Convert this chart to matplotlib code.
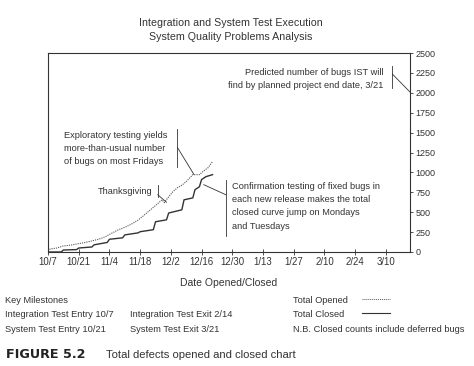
import numpy as np
import matplotlib
matplotlib.use("Agg")
import matplotlib.pyplot as plt

plt.rcParams['font.family'] = ['Liberation Sans', 'DejaVu Sans']

# days after 10/7 and cumulative counts
opened_days = [0, 1, 4, 7, 10, 13, 17, 20, 23, 26, 29, 32, 35, 38, 41, 45, 48,
               52, 53, 55, 57, 59, 61, 63, 66, 69, 71, 73, 75]
opened_vals = [10, 38, 50, 76, 85, 100, 120, 139, 160, 190, 235, 278, 310, 350,
               400, 490, 560, 656, 620, 694, 760, 808, 840, 884, 972, 972, 1020,
               1060, 1136]

closed_days = [0, 6, 7, 13, 14, 20, 21, 27, 28, 34, 35, 41, 42, 48, 49, 54, 55,
               61, 62, 66, 67, 69, 70, 72, 75]
closed_vals = [0, 0, 25, 30, 50, 63, 90, 120, 160, 178, 215, 240, 255, 280, 380,
               404, 490, 530, 656, 680, 783, 820, 910, 947, 972]

tick_days = list(range(0, 155, 14))
tick_labels = ['10/7', '10/21', '11/4', '11/18', '12/2', '12/16', '12/30',
               '1/13', '1/27', '2/10', '2/24', '3/10']
y_ticks = list(range(0, 2501, 250))

ink = '#333333'

fig = plt.figure(figsize=(4.74, 3.66), dpi=100)
ax = fig.add_axes([0.1013, 0.3115, 0.7637, 0.5435])

ax.plot(opened_days, opened_vals, color='#555555', lw=0.8, ls=(0, (1, 1)))
ax.plot(closed_days, closed_vals, color=ink, lw=1.0)

ax.set_xlim(0, 165)
ax.set_ylim(0, 2500)
ax.set_xticks(tick_days)
ax.set_xticklabels(tick_labels)
ax.set_yticks(y_ticks)
ax.yaxis.tick_right()
ax.tick_params(axis='both', colors=ink, length=2.5, width=0.6, pad=1.5)
ax.tick_params(axis='x', direction='inout', length=4, labelsize=6.9)
ax.tick_params(axis='y', labelsize=6.5)
for s in ax.spines.values():
    s.set_color(ink)
    s.set_linewidth(0.8)
ax.set_xlabel('Date Opened/Closed', fontsize=7.5, color=ink, labelpad=8)

fig.text(0.487, 0.937, 'Integration and System Test Execution', ha='center',
         va='center', fontsize=7.7, color=ink)
fig.text(0.487, 0.899, 'System Quality Problems Analysis', ha='center',
         va='center', fontsize=7.7, color=ink)

# annotations
afs = 6.7
lk = dict(color=ink, lw=0.6, clip_on=False)
ax.text(153, 2172, 'Predicted number of bugs IST will\nfind by planned project end date, 3/21',
        ha='right', va='center', fontsize=afs, color=ink, linespacing=1.6)
ax.plot([157, 157], [2058, 2336], **lk)
ax.plot([157, 165], [2235, 2010], **lk)

ax.text(7.3, 1300, 'Exploratory testing yields\nmore-than-usual number\nof bugs on most Fridays',
        ha='left', va='center', fontsize=afs, color=ink, linespacing=1.57)
ax.plot([59, 59], [1073, 1541], **lk)
ax.plot([59, 66.5], [1313, 975], **lk)

ax.text(47.5, 758, 'Thanksgiving', ha='right', va='center', fontsize=afs, color=ink)
ax.plot([50, 50], [695, 846], **lk)
ax.plot([50, 54], [720, 625], **lk)

ax.text(84, 575, 'Confirmation testing of fixed bugs in\neach new release makes the total\n'
        'closed curve jump on Mondays\nand Tuesdays',
        ha='left', va='center', fontsize=afs, color=ink, linespacing=1.6)
ax.plot([81, 81], [202, 909], **lk)
ax.plot([81, 71], [720, 846], **lk)

# milestones and legend below the chart
fs = 6.7
r1, r2, r3 = 0.180, 0.142, 0.101
fig.text(0.011, r1, 'Key Milestones', fontsize=fs, color=ink, va='center')
fig.text(0.011, r2, 'Integration Test Entry 10/7', fontsize=fs, color=ink, va='center')
fig.text(0.274, r2, 'Integration Test Exit 2/14', fontsize=fs, color=ink, va='center')
fig.text(0.011, r3, 'System Test Entry 10/21', fontsize=fs, color=ink, va='center')
fig.text(0.274, r3, 'System Test Exit 3/21', fontsize=fs, color=ink, va='center')
fig.text(0.618, r1, 'Total Opened', fontsize=fs, color=ink, va='center')
fig.text(0.618, r2, 'Total Closed', fontsize=fs, color=ink, va='center')
fig.text(0.618, r3, 'N.B. Closed counts include deferred bugs', fontsize=fs,
         color=ink, va='center')
fig.add_artist(plt.Line2D([0.764, 0.823], [r1 + 0.003, r1 + 0.003], color='#555555',
                          lw=0.7, ls=(0, (1, 1))))
fig.add_artist(plt.Line2D([0.764, 0.823], [r2 + 0.003, r2 + 0.003], color=ink, lw=0.8))

fig.text(0.012, 0.031, 'FIGURE 5.2', fontsize=9.2, fontweight='bold', color='#222222',
         va='center', family=['DejaVu Sans'])
fig.text(0.224, 0.031, 'Total defects opened and closed chart', fontsize=8.1,
         color=ink, va='center')

fig.savefig('out.png', dpi=100)
